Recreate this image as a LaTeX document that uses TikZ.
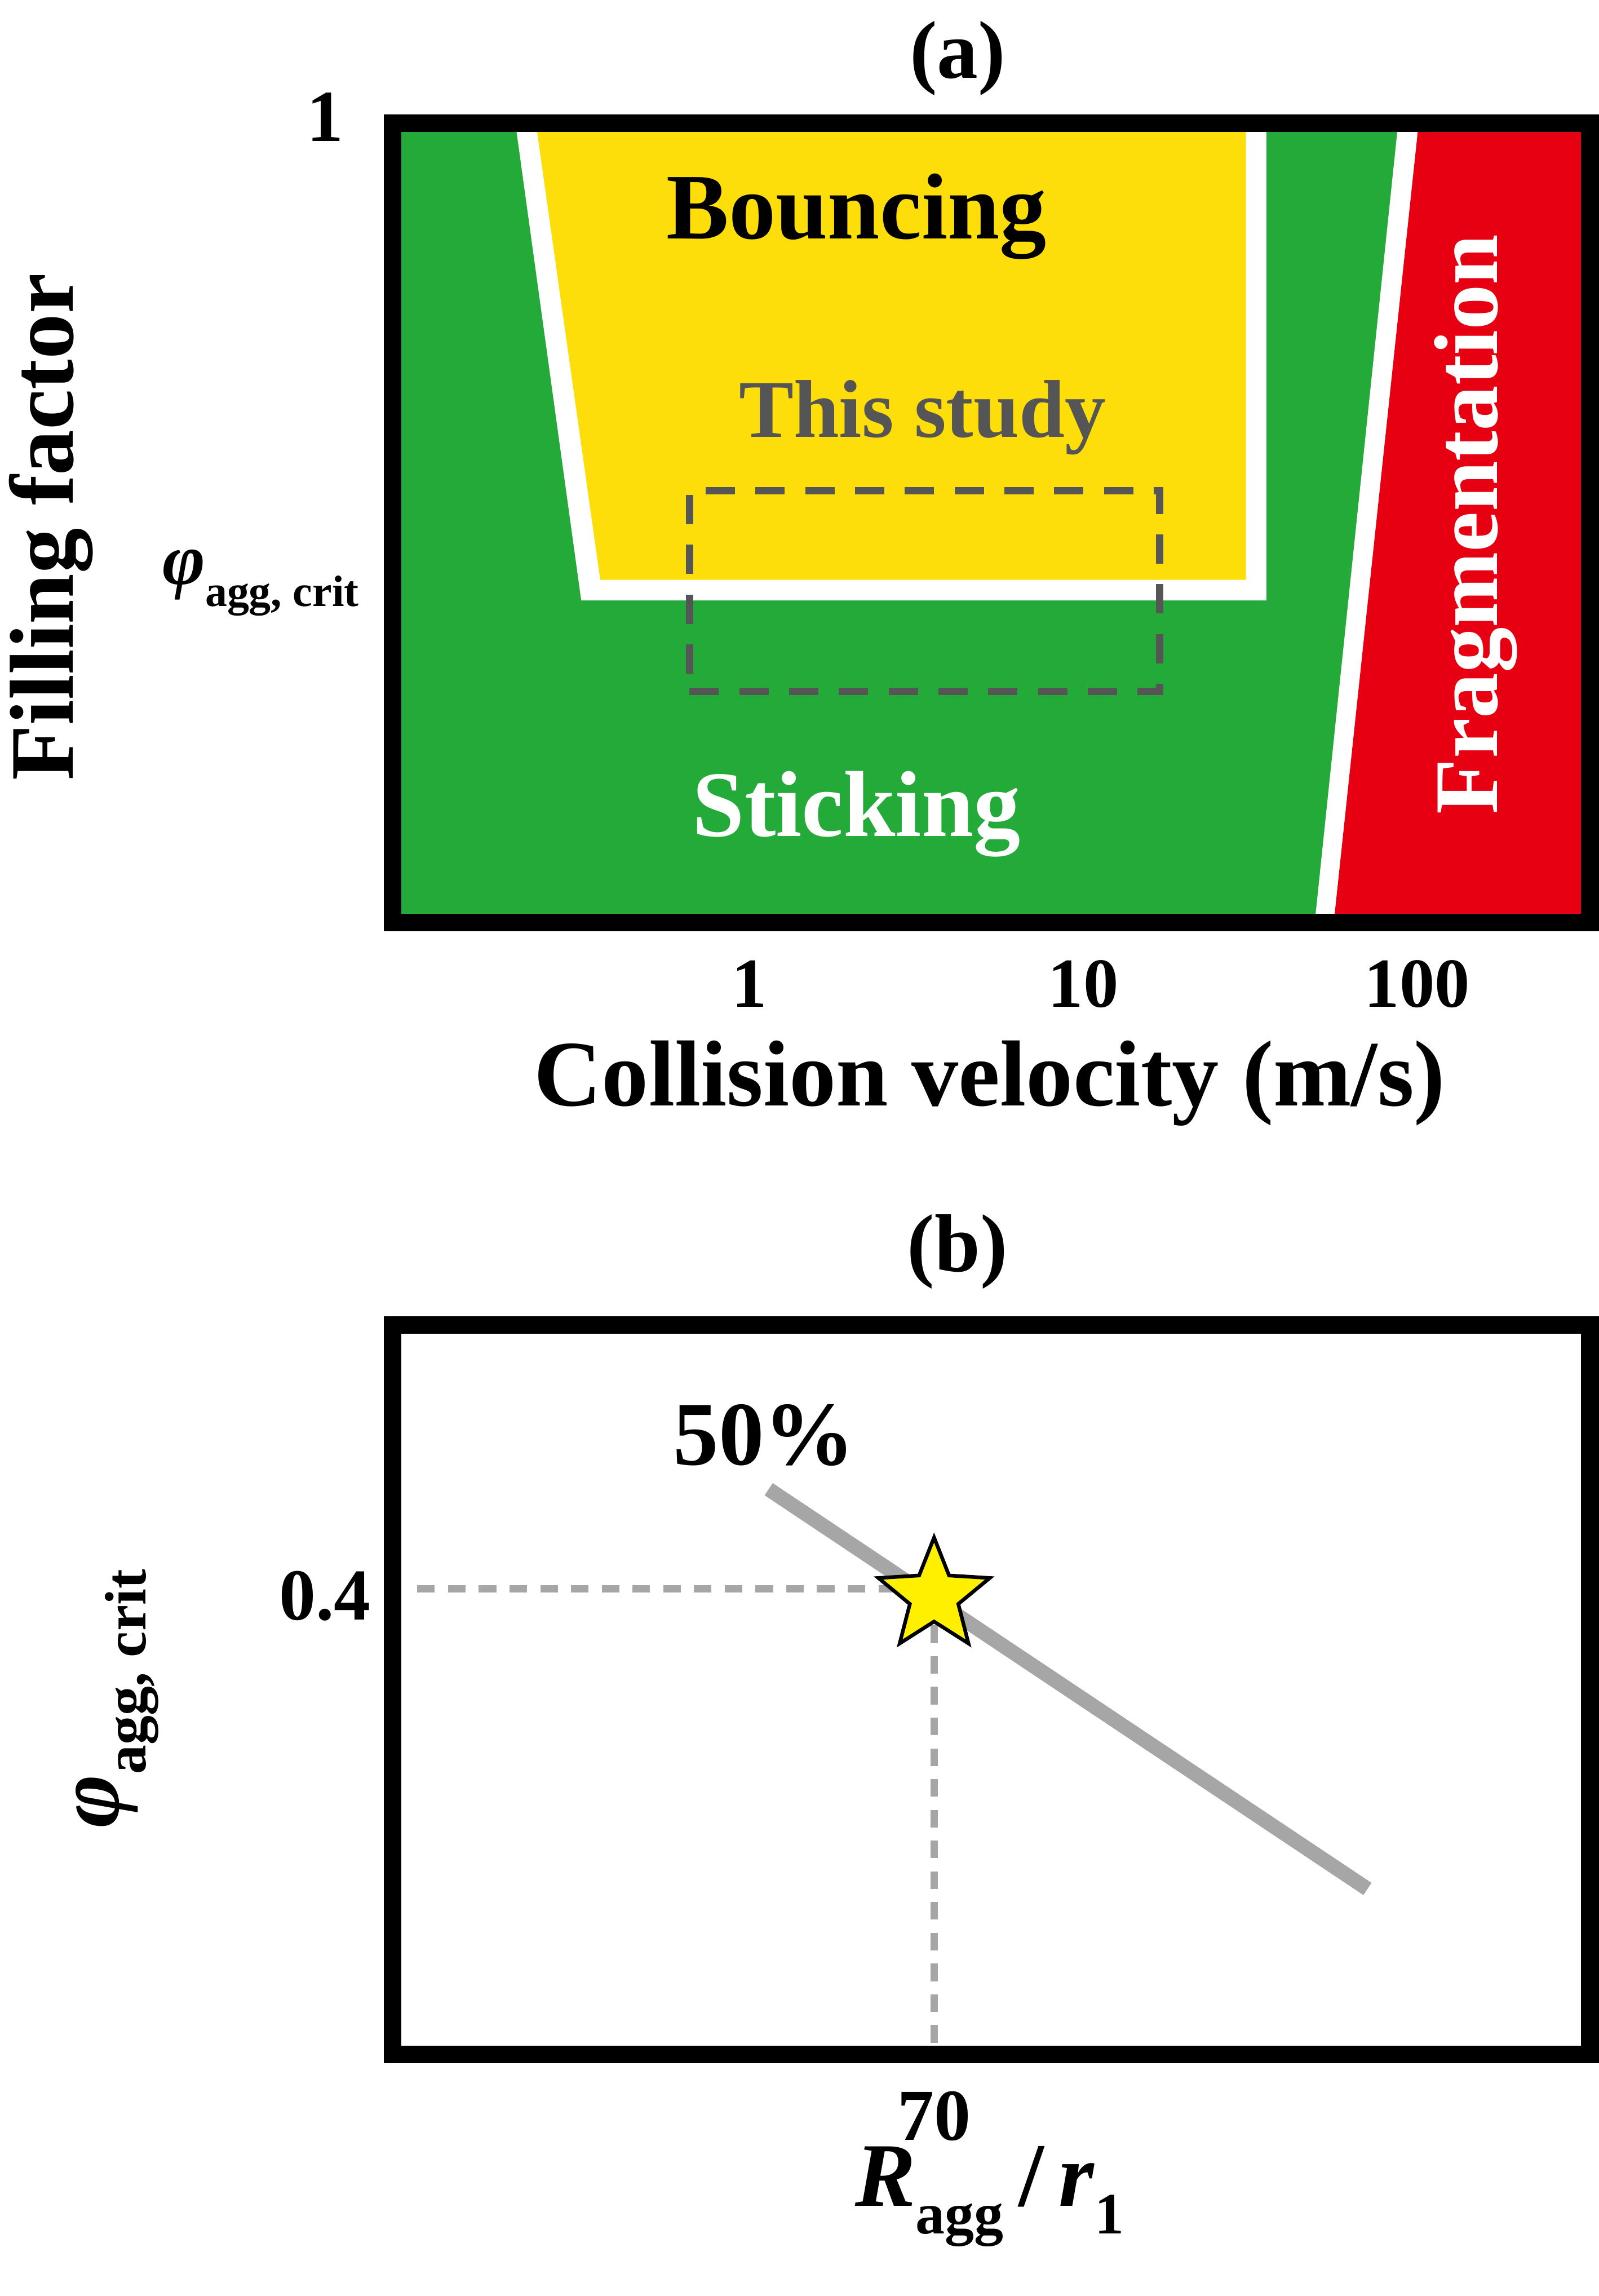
\documentclass[tikz,border=0pt]{standalone}
\usepackage{fontspec}
\setmainfont{Liberation Serif}
\usetikzlibrary{shapes.geometric}
\begin{document}
\begin{tikzpicture}[x=1pt,y=-1pt,
  txt/.style={font=\bfseries\fontsize{#1}{#1}\selectfont, inner sep=0pt},
  frame/.style={draw=black,line width=12pt}]
\useasboundingbox (0,0) rectangle (1092,1568);
% panel a
\fill[fill={rgb,255:red,36;green,170;blue,57}] (268,84) rectangle (1086,630);
\fill[white] (352,84) -- (865,84) -- (865,410) -- (397,410) -- cycle;
\fill[fill={rgb,255:red,254;green,222;blue,10}] (366,84) -- (851,84) -- (851,396) -- (410,396) -- cycle;
\fill[white] (955,84) -- (1086,84) -- (1086,630) -- (898,630) -- cycle;
\fill[fill={rgb,255:red,230;green,0;blue,18}] (969,84) -- (1086,84) -- (1086,630) -- (911,630) -- cycle;
\node[frame, minimum width=818pt, minimum height=546pt, inner sep=0pt] (fa) at (677,357) {};
\node[draw={rgb,255:red,85;green,85;blue,85}, line width=5pt, dash pattern=on 20pt off 14pt, minimum width=321pt, minimum height=137pt, inner sep=0pt] (study) at (631.5,403.5) {};
\node[txt=64] (bounce) at (585,148) {Bouncing};
\node[txt=56, text={rgb,255:red,85;green,85;blue,85}] (this) at (630,285) {This study};
\node[txt=64, text=white] (stick) at (585,556) {Sticking};
\node[txt=62, text=white, rotate=90] (frag) at (1008,358) {Fragmentation};
\node[txt=56] (la) at (654,40) {(a)};
\node[txt=50] (one) at (222,80) {1};
\node[txt=50] (phic) at (178,398) {\textit{φ}\raisebox{-0.3em}{\fontsize{30}{30}\selectfont agg, crit}};
\node[txt=62, rotate=90] (ff) at (35,360) {Filling factor};
\node[txt=48] (t1) at (512,672) {1};
\node[txt=48] (t10) at (740,672) {10};
\node[txt=48] (t100) at (968,672) {100};
\node[txt=64] (cv) at (676,740) {Collision velocity (m/s)};
% panel b
\node[txt=56] (lb) at (654,855) {(b)};
\node[frame, minimum width=818pt, minimum height=498pt, inner sep=0pt] (fb) at (677,1154) {};
\coordinate (h0) at (285,1085);
\coordinate (v0) at (638,1397);
\coordinate (c) at (638,1085);
\coordinate (l1) at (525,1017);
\coordinate (l2) at (934,1290);
\draw[gray!70, line width=10pt] (l1) -- (l2);
\draw[gray!70, line width=5pt, dash pattern=on 12pt off 9pt] (h0) -- (c) -- (v0);
\node[star, star points=5, star point ratio=2.3, minimum size=80pt, inner sep=0pt, draw=black, line width=2.5pt, fill={rgb,255:red,255;green,240;blue,0}] (st) at (638,1090) {};
\node[txt=62] (p50) at (522,980) {50\%};
\node[txt=50] (p04) at (222,1090) {0.4};
\node[txt=50] (t70) at (638,1445) {70};
\node[txt=62] (rx) at (676,1500) {\textit{R}\raisebox{-0.3em}{\fontsize{40}{40}\selectfont agg}\,/\,\textit{r}\raisebox{-0.3em}{\fontsize{40}{40}\selectfont 1}};
\node[txt=62, rotate=90] (py) at (80,1160) {\textit{φ}\raisebox{-0.3em}{\fontsize{40}{40}\selectfont agg, crit}};
\end{tikzpicture}
\end{document}
